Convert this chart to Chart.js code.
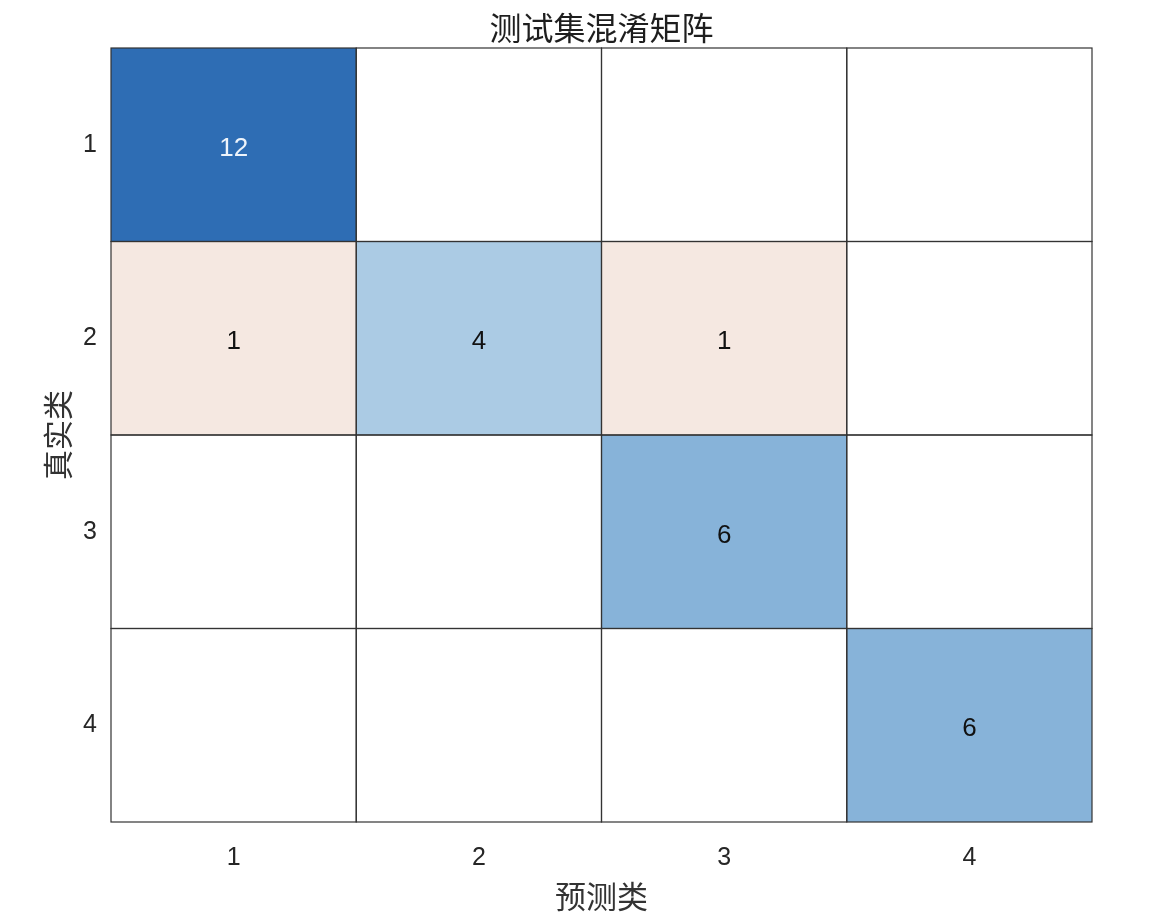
<!DOCTYPE html>
<html>
<head>
<meta charset="utf-8">
<script src="https://cdn.jsdelivr.net/npm/chart.js@4.4.1/dist/chart.umd.min.js"></script>
<style>
  html, body { margin: 0; padding: 0; background: #fff; }
  #wrap { width: 1155px; height: 915px; }
</style>
</head>
<body>
<div id="wrap"><canvas id="cm"></canvas></div>
<script>
// data
const classLabels = ['1', '2', '3', '4'];
const predicted = [1, 2, 3, 4];
const actual = [1, 2, 3, 4];
const counts = [
  [12, 0, 0, 0],
  [1, 4, 1, 0],
  [0, 0, 6, 0],
  [0, 0, 0, 6]
];
const chartTitle = '测试集混淆矩阵';
const xTitle = '预测类';
const yTitle = '真实类';

// diagonal = correct (blue), off-diagonal = wrong (pink)
function cellColor(v, diag) {
  if (v === 0) return '#ffffff';
  if (!diag) return '#f5e8e1';
  if (v >= 10) return '#2e6db4';
  if (v >= 6) return '#87b3d9';
  return '#abcbe4';
}

const points = [];
actual.forEach((a, r) => {
  predicted.forEach((p, c) => {
    points.push({ x: p, y: a, v: counts[r][c] });
  });
});

const cellPlugin = {
  id: 'cells',
  beforeDatasetsDraw(chart) {
    const { ctx, chartArea, scales: { x, y } } = chart;
    const pts = chart.data.datasets[0].data;
    ctx.save();
    pts.forEach(pt => {
      const x0 = x.getPixelForValue(pt.x - 0.5), x1 = x.getPixelForValue(pt.x + 0.5);
      const y0 = y.getPixelForValue(pt.y - 0.5), y1 = y.getPixelForValue(pt.y + 0.5);
      ctx.fillStyle = cellColor(pt.v, pt.x === pt.y);
      ctx.fillRect(x0, y0, x1 - x0, y1 - y0);
    });
    // borders
    ctx.strokeStyle = '#333333';
    ctx.lineWidth = 1.2;
    pts.forEach(pt => {
      const x0 = x.getPixelForValue(pt.x - 0.5), x1 = x.getPixelForValue(pt.x + 0.5);
      const y0 = y.getPixelForValue(pt.y - 0.5), y1 = y.getPixelForValue(pt.y + 0.5);
      ctx.strokeRect(x0, y0, x1 - x0, y1 - y0);
    });
    // counts
    ctx.font = '26px "Liberation Sans", Arial, sans-serif';
    ctx.textAlign = 'center';
    ctx.textBaseline = 'middle';
    pts.forEach(pt => {
      if (pt.v === 0) return;
      ctx.fillStyle = pt.v >= 10 ? '#eef4fb' : '#111111';
      ctx.fillText(String(pt.v), x.getPixelForValue(pt.x), y.getPixelForValue(pt.y) + 4);
    });
    // title centred over the plot area
    ctx.fillStyle = '#1e1e1e';
    ctx.font = '32px "Noto Sans CJK SC", sans-serif';
    ctx.fillText(chartTitle, (chartArea.left + chartArea.right) / 2, 28);
    ctx.restore();
  }
};

new Chart(document.getElementById('cm'), {
  type: 'scatter',
  data: {
    datasets: [{ data: points, pointRadius: 0, pointHoverRadius: 0 }]
  },
  plugins: [cellPlugin],
  options: {
    responsive: true,
    maintainAspectRatio: false,
    animation: false,
    layout: { padding: { left: 0, right: 63, top: 48, bottom: 0 } },
    plugins: {
      legend: { display: false },
      tooltip: { enabled: false },
      title: { display: false }
    },
    scales: {
      x: {
        type: 'linear',
        min: 0.5,
        max: 4.5,
        afterBuildTicks(s) { s.ticks = predicted.map(v => ({ value: v })); },
        afterFit(s) { s.height = 93; },
        grid: { display: false },
        border: { display: false },
        ticks: {
          callback: (v) => classLabels[v - 1],
          color: '#262626',
          font: { family: '"Liberation Sans", Arial, sans-serif', size: 25 },
          padding: 13,
          maxRotation: 0
        },
        title: {
          display: true,
          text: xTitle,
          color: '#333333',
          font: { family: '"Noto Sans CJK SC", sans-serif', size: 31 },
          padding: { top: 4, bottom: 0 }
        }
      },
      y: {
        type: 'linear',
        reverse: true,
        min: 0.5,
        max: 4.5,
        afterBuildTicks(s) { s.ticks = actual.map(v => ({ value: v })); },
        afterFit(s) { s.width = 111; },
        grid: { display: false },
        border: { display: false },
        ticks: {
          callback: (v) => classLabels[v - 1],
          color: '#262626',
          font: { family: '"Liberation Sans", Arial, sans-serif', size: 25 },
          padding: 6
        },
        title: {
          display: true,
          text: yTitle,
          color: '#333333',
          font: { family: '"Noto Sans CJK SC", sans-serif', size: 30 },
          padding: { top: 40, bottom: 0 }
        }
      }
    }
  }
});
</script>
</body>
</html>
